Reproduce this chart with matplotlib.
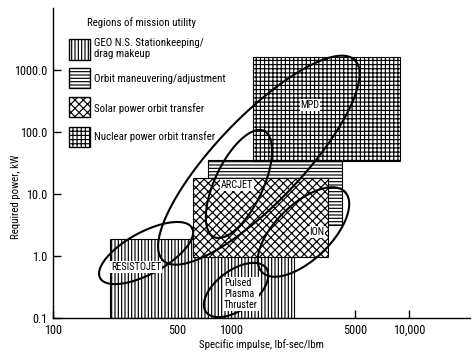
import numpy as np
import matplotlib
matplotlib.use("Agg")
import matplotlib.pyplot as plt
from matplotlib.patches import Rectangle
from matplotlib import font_manager as fm

# pick a narrow sans if one is installed, otherwise Liberation Sans at a smaller size
narrow = None
for fam in ['Liberation Sans Narrow', 'Roboto Condensed']:
    try:
        path = fm.findfont(fm.FontProperties(family=fam), fallback_to_default=False)
        if 'Narrow' in path or 'Condensed' in path:
            narrow = fam
            break
    except Exception:
        pass
if narrow:
    plt.rcParams['font.family'] = [narrow, 'DejaVu Sans']
    FS_TXT, FS_LBL, FS_TICK = 7.8, 7.4, 8.8
else:
    plt.rcParams['font.family'] = ['Liberation Sans', 'DejaVu Sans']
    FS_TXT, FS_LBL, FS_TICK = 7.0, 6.4, 8.0
plt.rcParams['hatch.linewidth'] = 0.85

# ---------------- data ----------------
x_ticks = [100, 500, 1000, 5000, 10000]
x_tick_labels = ["100", "500", "1000", "5000", "10,000"]
y_ticks = [0.1, 1.0, 10.0, 100.0, 1000.0]
y_tick_labels = ["0.1", "1.0", "10.0", "100.0", "1000.0"]

# mission regions: (Isp min, Isp max, power min, power max)
region_names = ["GEO N.S. Stationkeeping/\ndrag makeup", "Orbit maneuvering/adjustment",
                "Solar power orbit transfer", "Nuclear power orbit transfer"]
region_isp_min = [210, 740, 610, 1330]
region_isp_max = [2250, 4200, 3500, 8900]
region_pow_min = [0.1, 3.2, 0.95, 34]
region_pow_max = [1.85, 35, 18, 1600]
region_hatch = ['|||||', '-----', 'xxxx', '++++']

# thruster envelopes: major-axis end points (Isp, kW) and minor/major ratio
thrusters = ["RESISTOJET", "MPD", "ARCJET", "ION", "Pulsed\nPlasma\nThruster"]
env_isp_1 = [184, 415, 802, 1493, 724]
env_pow_1 = [0.44, 0.85, 2.02, 0.55, 0.125]
env_isp_2 = [604, 4950, 1531, 4365, 1574]
env_pow_2 = [2.83, 1450, 104, 10.8, 0.64]
env_ratio = [0.40, 0.31, 0.41, 0.48, 0.53]
label_isp = [293, 2780, 1081, 3040, 914]
label_pow = [0.665, 272, 14, 2.44, 0.244]

# ---------------- figure ----------------
fig = plt.figure(figsize=(4.74, 3.52), dpi=100)
W, H = 474, 352
x0, x1, y0, y1 = 53, 470, 8, 318
ax = fig.add_axes([x0 / W, 1 - y1 / H, (x1 - x0) / W, (y1 - y0) / H])
ax.set_xscale('log')
ax.set_yscale('log')
ax.set_xlim(100, 22000)
ax.set_ylim(0.1, 10000)

for s in ['top', 'right']:
    ax.spines[s].set_visible(False)
for s in ['left', 'bottom']:
    ax.spines[s].set_linewidth(1.0)

ax.set_xticks(x_ticks)
ax.set_xticklabels(x_tick_labels)
ax.set_yticks(y_ticks)
ax.set_yticklabels(y_tick_labels)
ax.minorticks_off()
ax.tick_params(direction='in', length=6, width=1, labelsize=FS_TICK, pad=4)
ax.tick_params(axis='x', pad=4)

ax.set_xlabel("Specific impulse, lbf-sec/lbm", fontsize=FS_TXT)
ax.set_ylabel("Required power, kW", fontsize=FS_TXT)
ax.xaxis.set_label_coords(0.5, -0.067)
ax.yaxis.set_label_coords(-0.077, 0.39)

# regions
for i in range(4):
    r = Rectangle((region_isp_min[i], region_pow_min[i]),
                  region_isp_max[i] - region_isp_min[i],
                  region_pow_max[i] - region_pow_min[i],
                  facecolor='white', edgecolor='black', hatch=region_hatch[i],
                  linewidth=0.8, zorder=2 + i)
    ax.add_patch(r)

# envelopes
fig.canvas.draw()
t = np.linspace(0, 2 * np.pi, 300)
for i in range(len(thrusters)):
    d1 = ax.transData.transform((env_isp_1[i], env_pow_1[i]))
    d2 = ax.transData.transform((env_isp_2[i], env_pow_2[i]))
    c = (d1 + d2) / 2
    v = (d2 - d1) / 2
    a = np.hypot(*v)
    u = v / a
    n = np.array([-u[1], u[0]])
    b = env_ratio[i] * a
    pts = c[None, :] + np.outer(a * np.cos(t), u) + np.outer(b * np.sin(t), n)
    dat = ax.transData.inverted().transform(pts)
    ax.plot(dat[:, 0], dat[:, 1], color='black', lw=1.5, zorder=10)

for i in range(len(thrusters)):
    ha = 'left' if '\n' in thrusters[i] else 'center'
    ax.text(label_isp[i], label_pow[i], thrusters[i], fontsize=FS_LBL, ha=ha, va='center',
            linespacing=1.1, zorder=12,
            bbox=dict(facecolor='white', edgecolor='none', pad=0.6))

# legend (manual)
ax.text(0.082, 0.952, "Regions of mission utility", transform=ax.transAxes,
        fontsize=FS_TXT, va='center', ha='left')
sw_y = [0.832, 0.742, 0.648, 0.552]
sw_h = [0.068, 0.065, 0.065, 0.065]
tx_y = [0.869, 0.771, 0.677, 0.584]
for i in range(4):
    ax.add_patch(Rectangle((0.038, sw_y[i]), 0.050, sw_h[i], transform=ax.transAxes,
                           facecolor='white', edgecolor='black', hatch=region_hatch[i],
                           linewidth=1.0, zorder=3))
    ax.text(0.098, tx_y[i], region_names[i], transform=ax.transAxes, fontsize=FS_TXT,
            va='center', ha='left', linespacing=1.1)

fig.savefig("out.png", dpi=100)
